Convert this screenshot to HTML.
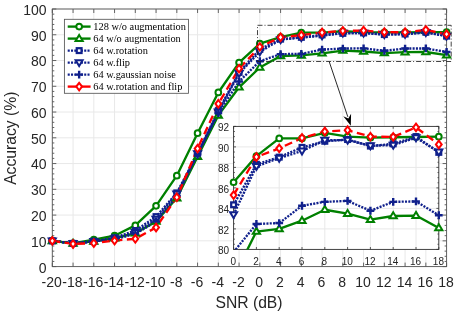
<!DOCTYPE html>
<html><head><meta charset="utf-8"><title>Accuracy vs SNR</title>
<style>html,body{margin:0;padding:0;background:#fff;overflow:hidden}svg{display:block}</style></head>
<body>
<svg width="457" height="314" viewBox="0 0 457 314" style="display:block">
<rect width="457" height="314" fill="#fff"/>
<defs>
<clipPath id="cm"><rect x="52.3" y="9.0" width="394.3" height="257.6"/></clipPath>
<clipPath id="ci"><rect x="233.6" y="126.4" width="205.20000000000002" height="123.0"/></clipPath>
</defs>
<path d="M52.30 9.0 V266.6 M73.05 9.0 V266.6 M93.81 9.0 V266.6 M114.56 9.0 V266.6 M135.31 9.0 V266.6 M156.06 9.0 V266.6 M176.82 9.0 V266.6 M197.57 9.0 V266.6 M218.32 9.0 V266.6 M239.07 9.0 V266.6 M259.83 9.0 V266.6 M280.58 9.0 V266.6 M301.33 9.0 V266.6 M322.08 9.0 V266.6 M342.84 9.0 V266.6 M363.59 9.0 V266.6 M384.34 9.0 V266.6 M405.09 9.0 V266.6 M425.85 9.0 V266.6 M446.60 9.0 V266.6 M52.3 266.60 H446.6 M52.3 240.84 H446.6 M52.3 215.08 H446.6 M52.3 189.32 H446.6 M52.3 163.56 H446.6 M52.3 137.80 H446.6 M52.3 112.04 H446.6 M52.3 86.28 H446.6 M52.3 60.52 H446.6 M52.3 34.76 H446.6 M52.3 9.00 H446.6" stroke="#e8e8e8" stroke-width="1" fill="none"/>
<path d="M52.30 266.6 v-4.0 M52.30 9.0 v4.0 M73.05 266.6 v-4.0 M73.05 9.0 v4.0 M93.81 266.6 v-4.0 M93.81 9.0 v4.0 M114.56 266.6 v-4.0 M114.56 9.0 v4.0 M135.31 266.6 v-4.0 M135.31 9.0 v4.0 M156.06 266.6 v-4.0 M156.06 9.0 v4.0 M176.82 266.6 v-4.0 M176.82 9.0 v4.0 M197.57 266.6 v-4.0 M197.57 9.0 v4.0 M218.32 266.6 v-4.0 M218.32 9.0 v4.0 M239.07 266.6 v-4.0 M239.07 9.0 v4.0 M259.83 266.6 v-4.0 M259.83 9.0 v4.0 M280.58 266.6 v-4.0 M280.58 9.0 v4.0 M301.33 266.6 v-4.0 M301.33 9.0 v4.0 M322.08 266.6 v-4.0 M322.08 9.0 v4.0 M342.84 266.6 v-4.0 M342.84 9.0 v4.0 M363.59 266.6 v-4.0 M363.59 9.0 v4.0 M384.34 266.6 v-4.0 M384.34 9.0 v4.0 M405.09 266.6 v-4.0 M405.09 9.0 v4.0 M425.85 266.6 v-4.0 M425.85 9.0 v4.0 M446.60 266.6 v-4.0 M446.60 9.0 v4.0 M52.3 266.60 h4.0 M446.6 266.60 h-4.0 M52.3 240.84 h4.0 M446.6 240.84 h-4.0 M52.3 215.08 h4.0 M446.6 215.08 h-4.0 M52.3 189.32 h4.0 M446.6 189.32 h-4.0 M52.3 163.56 h4.0 M446.6 163.56 h-4.0 M52.3 137.80 h4.0 M446.6 137.80 h-4.0 M52.3 112.04 h4.0 M446.6 112.04 h-4.0 M52.3 86.28 h4.0 M446.6 86.28 h-4.0 M52.3 60.52 h4.0 M446.6 60.52 h-4.0 M52.3 34.76 h4.0 M446.6 34.76 h-4.0 M52.3 9.00 h4.0 M446.6 9.00 h-4.0 M52.3 261.45 h2.0 M446.6 261.45 h-2.0 M52.3 256.30 h2.0 M446.6 256.30 h-2.0 M52.3 251.14 h2.0 M446.6 251.14 h-2.0 M52.3 245.99 h2.0 M446.6 245.99 h-2.0 M52.3 235.69 h2.0 M446.6 235.69 h-2.0 M52.3 230.54 h2.0 M446.6 230.54 h-2.0 M52.3 225.38 h2.0 M446.6 225.38 h-2.0 M52.3 220.23 h2.0 M446.6 220.23 h-2.0 M52.3 209.93 h2.0 M446.6 209.93 h-2.0 M52.3 204.78 h2.0 M446.6 204.78 h-2.0 M52.3 199.62 h2.0 M446.6 199.62 h-2.0 M52.3 194.47 h2.0 M446.6 194.47 h-2.0 M52.3 184.17 h2.0 M446.6 184.17 h-2.0 M52.3 179.02 h2.0 M446.6 179.02 h-2.0 M52.3 173.86 h2.0 M446.6 173.86 h-2.0 M52.3 168.71 h2.0 M446.6 168.71 h-2.0 M52.3 158.41 h2.0 M446.6 158.41 h-2.0 M52.3 153.26 h2.0 M446.6 153.26 h-2.0 M52.3 148.10 h2.0 M446.6 148.10 h-2.0 M52.3 142.95 h2.0 M446.6 142.95 h-2.0 M52.3 132.65 h2.0 M446.6 132.65 h-2.0 M52.3 127.50 h2.0 M446.6 127.50 h-2.0 M52.3 122.34 h2.0 M446.6 122.34 h-2.0 M52.3 117.19 h2.0 M446.6 117.19 h-2.0 M52.3 106.89 h2.0 M446.6 106.89 h-2.0 M52.3 101.74 h2.0 M446.6 101.74 h-2.0 M52.3 96.58 h2.0 M446.6 96.58 h-2.0 M52.3 91.43 h2.0 M446.6 91.43 h-2.0 M52.3 81.13 h2.0 M446.6 81.13 h-2.0 M52.3 75.98 h2.0 M446.6 75.98 h-2.0 M52.3 70.82 h2.0 M446.6 70.82 h-2.0 M52.3 65.67 h2.0 M446.6 65.67 h-2.0 M52.3 55.37 h2.0 M446.6 55.37 h-2.0 M52.3 50.22 h2.0 M446.6 50.22 h-2.0 M52.3 45.06 h2.0 M446.6 45.06 h-2.0 M52.3 39.91 h2.0 M446.6 39.91 h-2.0 M52.3 29.61 h2.0 M446.6 29.61 h-2.0 M52.3 24.46 h2.0 M446.6 24.46 h-2.0 M52.3 19.30 h2.0 M446.6 19.30 h-2.0 M52.3 14.15 h2.0 M446.6 14.15 h-2.0" stroke="#555" stroke-width="0.9" fill="none"/>
<rect x="52.3" y="9.0" width="394.3" height="257.6" fill="none" stroke="#555" stroke-width="0.9"/>
<g clip-path="url(#cm)">
<polyline points="52.30,240.84 73.05,243.42 93.81,239.55 114.56,235.69 135.31,225.38 156.06,205.81 176.82,175.67 197.57,133.16 218.32,92.46 239.07,62.58 259.83,43.65 280.58,37.08 301.33,32.62 322.08,32.62 342.84,31.26 363.59,32.18 384.34,32.44 405.09,32.34 425.85,32.26 446.60,32.18" fill="none" stroke="#008000" stroke-width="2.35" stroke-linejoin="round"/>
<polyline points="52.30,240.84 73.05,243.42 93.81,241.36 114.56,238.26 135.31,233.11 156.06,221.52 176.82,198.08 197.57,156.60 218.32,115.39 239.07,87.31 259.83,67.48 280.58,56.04 301.33,55.37 322.08,53.31 342.84,50.55 363.59,51.53 384.34,53.05 405.09,52.12 425.85,52.02 446.60,55.11" fill="none" stroke="#008000" stroke-width="2.35" stroke-linejoin="round"/>
<polyline points="52.30,240.84 73.05,243.42 93.81,241.36 114.56,237.75 135.31,230.54 156.06,216.63 176.82,192.93 197.57,153.26 218.32,110.75 239.07,72.37 259.83,49.31 280.58,39.14 301.33,37.34 322.08,34.89 342.84,33.34 363.59,32.91 384.34,34.55 405.09,33.99 425.85,32.18 446.60,36.13" fill="none" stroke="#10208c" stroke-width="2.35" stroke-dasharray="2.05 1.25" stroke-linejoin="round"/>
<polyline points="52.30,240.84 73.05,243.42 93.81,241.36 114.56,238.78 135.31,232.34 156.06,219.20 176.82,193.96 197.57,153.77 218.32,111.78 239.07,73.40 259.83,51.76 280.58,39.65 301.33,37.59 322.08,35.79 342.84,33.09 363.59,33.06 384.34,34.45 405.09,34.32 425.85,32.44 446.60,36.05" fill="none" stroke="#10208c" stroke-width="2.35" stroke-dasharray="2.05 1.25" stroke-linejoin="round"/>
<polyline points="52.30,240.84 73.05,243.42 93.81,241.36 114.56,239.29 135.31,233.88 156.06,221.52 176.82,196.28 197.57,154.29 218.32,113.07 239.07,81.51 259.83,61.19 280.58,54.13 301.33,53.90 322.08,49.55 342.84,48.57 363.59,48.34 384.34,50.81 405.09,48.57 425.85,48.46 446.60,51.94" fill="none" stroke="#10208c" stroke-width="2.35" stroke-dasharray="2.05 1.25" stroke-linejoin="round"/>
<polyline points="52.30,240.84 73.05,243.93 93.81,243.16 114.56,240.58 135.31,238.78 156.06,227.44 176.82,197.31 197.57,148.62 218.32,103.80 239.07,68.63 259.83,46.87 280.58,37.28 301.33,35.12 322.08,32.52 342.84,30.90 363.59,30.56 384.34,32.18 405.09,32.24 425.85,29.87 446.60,34.14" fill="none" stroke="#ff0000" stroke-width="2.35" stroke-dasharray="8 4.5" stroke-linejoin="round"/>
</g>
<circle cx="52.30" cy="240.84" r="2.85" fill="#fff" stroke="#008000" stroke-width="2.0"/>
<circle cx="73.05" cy="243.42" r="2.85" fill="#fff" stroke="#008000" stroke-width="2.0"/>
<circle cx="93.81" cy="239.55" r="2.85" fill="#fff" stroke="#008000" stroke-width="2.0"/>
<circle cx="114.56" cy="235.69" r="2.85" fill="#fff" stroke="#008000" stroke-width="2.0"/>
<circle cx="135.31" cy="225.38" r="2.85" fill="#fff" stroke="#008000" stroke-width="2.0"/>
<circle cx="156.06" cy="205.81" r="2.85" fill="#fff" stroke="#008000" stroke-width="2.0"/>
<circle cx="176.82" cy="175.67" r="2.85" fill="#fff" stroke="#008000" stroke-width="2.0"/>
<circle cx="197.57" cy="133.16" r="2.85" fill="#fff" stroke="#008000" stroke-width="2.0"/>
<circle cx="218.32" cy="92.46" r="2.85" fill="#fff" stroke="#008000" stroke-width="2.0"/>
<circle cx="239.07" cy="62.58" r="2.85" fill="#fff" stroke="#008000" stroke-width="2.0"/>
<circle cx="259.83" cy="43.65" r="2.85" fill="#fff" stroke="#008000" stroke-width="2.0"/>
<circle cx="280.58" cy="37.08" r="2.85" fill="#fff" stroke="#008000" stroke-width="2.0"/>
<circle cx="301.33" cy="32.62" r="2.85" fill="#fff" stroke="#008000" stroke-width="2.0"/>
<circle cx="322.08" cy="32.62" r="2.85" fill="#fff" stroke="#008000" stroke-width="2.0"/>
<circle cx="342.84" cy="31.26" r="2.85" fill="#fff" stroke="#008000" stroke-width="2.0"/>
<circle cx="363.59" cy="32.18" r="2.85" fill="#fff" stroke="#008000" stroke-width="2.0"/>
<circle cx="384.34" cy="32.44" r="2.85" fill="#fff" stroke="#008000" stroke-width="2.0"/>
<circle cx="405.09" cy="32.34" r="2.85" fill="#fff" stroke="#008000" stroke-width="2.0"/>
<circle cx="425.85" cy="32.26" r="2.85" fill="#fff" stroke="#008000" stroke-width="2.0"/>
<circle cx="446.60" cy="32.18" r="2.85" fill="#fff" stroke="#008000" stroke-width="2.0"/>
<path d="M52.30 237.14 L55.90 243.14 L48.70 243.14 Z" fill="#fff" stroke="#008000" stroke-width="2.0" stroke-linejoin="miter"/>
<path d="M73.05 239.72 L76.65 245.72 L69.45 245.72 Z" fill="#fff" stroke="#008000" stroke-width="2.0" stroke-linejoin="miter"/>
<path d="M93.81 237.66 L97.41 243.66 L90.21 243.66 Z" fill="#fff" stroke="#008000" stroke-width="2.0" stroke-linejoin="miter"/>
<path d="M114.56 234.56 L118.16 240.56 L110.96 240.56 Z" fill="#fff" stroke="#008000" stroke-width="2.0" stroke-linejoin="miter"/>
<path d="M135.31 229.41 L138.91 235.41 L131.71 235.41 Z" fill="#fff" stroke="#008000" stroke-width="2.0" stroke-linejoin="miter"/>
<path d="M156.06 217.82 L159.66 223.82 L152.46 223.82 Z" fill="#fff" stroke="#008000" stroke-width="2.0" stroke-linejoin="miter"/>
<path d="M176.82 194.38 L180.42 200.38 L173.22 200.38 Z" fill="#fff" stroke="#008000" stroke-width="2.0" stroke-linejoin="miter"/>
<path d="M197.57 152.90 L201.17 158.90 L193.97 158.90 Z" fill="#fff" stroke="#008000" stroke-width="2.0" stroke-linejoin="miter"/>
<path d="M218.32 111.69 L221.92 117.69 L214.72 117.69 Z" fill="#fff" stroke="#008000" stroke-width="2.0" stroke-linejoin="miter"/>
<path d="M239.07 83.61 L242.67 89.61 L235.47 89.61 Z" fill="#fff" stroke="#008000" stroke-width="2.0" stroke-linejoin="miter"/>
<path d="M259.83 63.78 L263.43 69.78 L256.23 69.78 Z" fill="#fff" stroke="#008000" stroke-width="2.0" stroke-linejoin="miter"/>
<path d="M280.58 52.34 L284.18 58.34 L276.98 58.34 Z" fill="#fff" stroke="#008000" stroke-width="2.0" stroke-linejoin="miter"/>
<path d="M301.33 51.67 L304.93 57.67 L297.73 57.67 Z" fill="#fff" stroke="#008000" stroke-width="2.0" stroke-linejoin="miter"/>
<path d="M322.08 49.61 L325.68 55.61 L318.48 55.61 Z" fill="#fff" stroke="#008000" stroke-width="2.0" stroke-linejoin="miter"/>
<path d="M342.84 46.85 L346.44 52.85 L339.24 52.85 Z" fill="#fff" stroke="#008000" stroke-width="2.0" stroke-linejoin="miter"/>
<path d="M363.59 47.83 L367.19 53.83 L359.99 53.83 Z" fill="#fff" stroke="#008000" stroke-width="2.0" stroke-linejoin="miter"/>
<path d="M384.34 49.35 L387.94 55.35 L380.74 55.35 Z" fill="#fff" stroke="#008000" stroke-width="2.0" stroke-linejoin="miter"/>
<path d="M405.09 48.42 L408.69 54.42 L401.49 54.42 Z" fill="#fff" stroke="#008000" stroke-width="2.0" stroke-linejoin="miter"/>
<path d="M425.85 48.32 L429.45 54.32 L422.25 54.32 Z" fill="#fff" stroke="#008000" stroke-width="2.0" stroke-linejoin="miter"/>
<path d="M446.60 51.41 L450.20 57.41 L443.00 57.41 Z" fill="#fff" stroke="#008000" stroke-width="2.0" stroke-linejoin="miter"/>
<rect x="49.90" y="238.44" width="4.8" height="4.8" fill="#fff" stroke="#10208c" stroke-width="2.25"/>
<rect x="70.65" y="241.02" width="4.8" height="4.8" fill="#fff" stroke="#10208c" stroke-width="2.25"/>
<rect x="91.41" y="238.96" width="4.8" height="4.8" fill="#fff" stroke="#10208c" stroke-width="2.25"/>
<rect x="112.16" y="235.35" width="4.8" height="4.8" fill="#fff" stroke="#10208c" stroke-width="2.25"/>
<rect x="132.91" y="228.14" width="4.8" height="4.8" fill="#fff" stroke="#10208c" stroke-width="2.25"/>
<rect x="153.66" y="214.23" width="4.8" height="4.8" fill="#fff" stroke="#10208c" stroke-width="2.25"/>
<rect x="174.42" y="190.53" width="4.8" height="4.8" fill="#fff" stroke="#10208c" stroke-width="2.25"/>
<rect x="195.17" y="150.86" width="4.8" height="4.8" fill="#fff" stroke="#10208c" stroke-width="2.25"/>
<rect x="215.92" y="108.35" width="4.8" height="4.8" fill="#fff" stroke="#10208c" stroke-width="2.25"/>
<rect x="236.67" y="69.97" width="4.8" height="4.8" fill="#fff" stroke="#10208c" stroke-width="2.25"/>
<rect x="257.43" y="46.91" width="4.8" height="4.8" fill="#fff" stroke="#10208c" stroke-width="2.25"/>
<rect x="278.18" y="36.74" width="4.8" height="4.8" fill="#fff" stroke="#10208c" stroke-width="2.25"/>
<rect x="298.93" y="34.94" width="4.8" height="4.8" fill="#fff" stroke="#10208c" stroke-width="2.25"/>
<rect x="319.68" y="32.49" width="4.8" height="4.8" fill="#fff" stroke="#10208c" stroke-width="2.25"/>
<rect x="340.44" y="30.94" width="4.8" height="4.8" fill="#fff" stroke="#10208c" stroke-width="2.25"/>
<rect x="361.19" y="30.51" width="4.8" height="4.8" fill="#fff" stroke="#10208c" stroke-width="2.25"/>
<rect x="381.94" y="32.15" width="4.8" height="4.8" fill="#fff" stroke="#10208c" stroke-width="2.25"/>
<rect x="402.69" y="31.59" width="4.8" height="4.8" fill="#fff" stroke="#10208c" stroke-width="2.25"/>
<rect x="423.45" y="29.78" width="4.8" height="4.8" fill="#fff" stroke="#10208c" stroke-width="2.25"/>
<rect x="444.20" y="33.73" width="4.8" height="4.8" fill="#fff" stroke="#10208c" stroke-width="2.25"/>
<path d="M52.30 244.34 L55.80 238.44 L48.80 238.44 Z" fill="#fff" stroke="#10208c" stroke-width="2.0" stroke-linejoin="miter"/>
<path d="M73.05 246.92 L76.55 241.02 L69.55 241.02 Z" fill="#fff" stroke="#10208c" stroke-width="2.0" stroke-linejoin="miter"/>
<path d="M93.81 244.86 L97.31 238.96 L90.31 238.96 Z" fill="#fff" stroke="#10208c" stroke-width="2.0" stroke-linejoin="miter"/>
<path d="M114.56 242.28 L118.06 236.38 L111.06 236.38 Z" fill="#fff" stroke="#10208c" stroke-width="2.0" stroke-linejoin="miter"/>
<path d="M135.31 235.84 L138.81 229.94 L131.81 229.94 Z" fill="#fff" stroke="#10208c" stroke-width="2.0" stroke-linejoin="miter"/>
<path d="M156.06 222.70 L159.56 216.80 L152.56 216.80 Z" fill="#fff" stroke="#10208c" stroke-width="2.0" stroke-linejoin="miter"/>
<path d="M176.82 197.46 L180.32 191.56 L173.32 191.56 Z" fill="#fff" stroke="#10208c" stroke-width="2.0" stroke-linejoin="miter"/>
<path d="M197.57 157.27 L201.07 151.37 L194.07 151.37 Z" fill="#fff" stroke="#10208c" stroke-width="2.0" stroke-linejoin="miter"/>
<path d="M218.32 115.28 L221.82 109.38 L214.82 109.38 Z" fill="#fff" stroke="#10208c" stroke-width="2.0" stroke-linejoin="miter"/>
<path d="M239.07 76.90 L242.57 71.00 L235.57 71.00 Z" fill="#fff" stroke="#10208c" stroke-width="2.0" stroke-linejoin="miter"/>
<path d="M259.83 55.26 L263.33 49.36 L256.33 49.36 Z" fill="#fff" stroke="#10208c" stroke-width="2.0" stroke-linejoin="miter"/>
<path d="M280.58 43.15 L284.08 37.25 L277.08 37.25 Z" fill="#fff" stroke="#10208c" stroke-width="2.0" stroke-linejoin="miter"/>
<path d="M301.33 41.09 L304.83 35.19 L297.83 35.19 Z" fill="#fff" stroke="#10208c" stroke-width="2.0" stroke-linejoin="miter"/>
<path d="M322.08 39.29 L325.58 33.39 L318.58 33.39 Z" fill="#fff" stroke="#10208c" stroke-width="2.0" stroke-linejoin="miter"/>
<path d="M342.84 36.59 L346.34 30.69 L339.34 30.69 Z" fill="#fff" stroke="#10208c" stroke-width="2.0" stroke-linejoin="miter"/>
<path d="M363.59 36.56 L367.09 30.66 L360.09 30.66 Z" fill="#fff" stroke="#10208c" stroke-width="2.0" stroke-linejoin="miter"/>
<path d="M384.34 37.95 L387.84 32.05 L380.84 32.05 Z" fill="#fff" stroke="#10208c" stroke-width="2.0" stroke-linejoin="miter"/>
<path d="M405.09 37.82 L408.59 31.92 L401.59 31.92 Z" fill="#fff" stroke="#10208c" stroke-width="2.0" stroke-linejoin="miter"/>
<path d="M425.85 35.94 L429.35 30.04 L422.35 30.04 Z" fill="#fff" stroke="#10208c" stroke-width="2.0" stroke-linejoin="miter"/>
<path d="M446.60 39.55 L450.10 33.65 L443.10 33.65 Z" fill="#fff" stroke="#10208c" stroke-width="2.0" stroke-linejoin="miter"/>
<path d="M48.40 240.84 H56.20 M52.30 236.94 V244.74" fill="none" stroke="#10208c" stroke-width="2.4"/>
<path d="M69.15 243.42 H76.95 M73.05 239.52 V247.32" fill="none" stroke="#10208c" stroke-width="2.4"/>
<path d="M89.91 241.36 H97.71 M93.81 237.46 V245.26" fill="none" stroke="#10208c" stroke-width="2.4"/>
<path d="M110.66 239.29 H118.46 M114.56 235.39 V243.19" fill="none" stroke="#10208c" stroke-width="2.4"/>
<path d="M131.41 233.88 H139.21 M135.31 229.98 V237.78" fill="none" stroke="#10208c" stroke-width="2.4"/>
<path d="M152.16 221.52 H159.96 M156.06 217.62 V225.42" fill="none" stroke="#10208c" stroke-width="2.4"/>
<path d="M172.92 196.28 H180.72 M176.82 192.38 V200.18" fill="none" stroke="#10208c" stroke-width="2.4"/>
<path d="M193.67 154.29 H201.47 M197.57 150.39 V158.19" fill="none" stroke="#10208c" stroke-width="2.4"/>
<path d="M214.42 113.07 H222.22 M218.32 109.17 V116.97" fill="none" stroke="#10208c" stroke-width="2.4"/>
<path d="M235.17 81.51 H242.97 M239.07 77.61 V85.41" fill="none" stroke="#10208c" stroke-width="2.4"/>
<path d="M255.93 61.19 H263.73 M259.83 57.29 V65.09" fill="none" stroke="#10208c" stroke-width="2.4"/>
<path d="M276.68 54.13 H284.48 M280.58 50.23 V58.03" fill="none" stroke="#10208c" stroke-width="2.4"/>
<path d="M297.43 53.90 H305.23 M301.33 50.00 V57.80" fill="none" stroke="#10208c" stroke-width="2.4"/>
<path d="M318.18 49.55 H325.98 M322.08 45.65 V53.45" fill="none" stroke="#10208c" stroke-width="2.4"/>
<path d="M338.94 48.57 H346.74 M342.84 44.67 V52.47" fill="none" stroke="#10208c" stroke-width="2.4"/>
<path d="M359.69 48.34 H367.49 M363.59 44.44 V52.24" fill="none" stroke="#10208c" stroke-width="2.4"/>
<path d="M380.44 50.81 H388.24 M384.34 46.91 V54.71" fill="none" stroke="#10208c" stroke-width="2.4"/>
<path d="M401.19 48.57 H408.99 M405.09 44.67 V52.47" fill="none" stroke="#10208c" stroke-width="2.4"/>
<path d="M421.95 48.46 H429.75 M425.85 44.56 V52.36" fill="none" stroke="#10208c" stroke-width="2.4"/>
<path d="M442.70 51.94 H450.50 M446.60 48.04 V55.84" fill="none" stroke="#10208c" stroke-width="2.4"/>
<path d="M52.30 237.04 L55.20 240.84 L52.30 244.64 L49.40 240.84 Z" fill="#fff" stroke="#ff0000" stroke-width="2.0" stroke-linejoin="miter"/>
<path d="M73.05 240.13 L75.95 243.93 L73.05 247.73 L70.15 243.93 Z" fill="#fff" stroke="#ff0000" stroke-width="2.0" stroke-linejoin="miter"/>
<path d="M93.81 239.36 L96.71 243.16 L93.81 246.96 L90.91 243.16 Z" fill="#fff" stroke="#ff0000" stroke-width="2.0" stroke-linejoin="miter"/>
<path d="M114.56 236.78 L117.46 240.58 L114.56 244.38 L111.66 240.58 Z" fill="#fff" stroke="#ff0000" stroke-width="2.0" stroke-linejoin="miter"/>
<path d="M135.31 234.98 L138.21 238.78 L135.31 242.58 L132.41 238.78 Z" fill="#fff" stroke="#ff0000" stroke-width="2.0" stroke-linejoin="miter"/>
<path d="M156.06 223.64 L158.96 227.44 L156.06 231.24 L153.16 227.44 Z" fill="#fff" stroke="#ff0000" stroke-width="2.0" stroke-linejoin="miter"/>
<path d="M176.82 193.51 L179.72 197.31 L176.82 201.11 L173.92 197.31 Z" fill="#fff" stroke="#ff0000" stroke-width="2.0" stroke-linejoin="miter"/>
<path d="M197.57 144.82 L200.47 148.62 L197.57 152.42 L194.67 148.62 Z" fill="#fff" stroke="#ff0000" stroke-width="2.0" stroke-linejoin="miter"/>
<path d="M218.32 100.00 L221.22 103.80 L218.32 107.60 L215.42 103.80 Z" fill="#fff" stroke="#ff0000" stroke-width="2.0" stroke-linejoin="miter"/>
<path d="M239.07 64.83 L241.97 68.63 L239.07 72.43 L236.17 68.63 Z" fill="#fff" stroke="#ff0000" stroke-width="2.0" stroke-linejoin="miter"/>
<path d="M259.83 43.07 L262.73 46.87 L259.83 50.67 L256.93 46.87 Z" fill="#fff" stroke="#ff0000" stroke-width="2.0" stroke-linejoin="miter"/>
<path d="M280.58 33.48 L283.48 37.28 L280.58 41.08 L277.68 37.28 Z" fill="#fff" stroke="#ff0000" stroke-width="2.0" stroke-linejoin="miter"/>
<path d="M301.33 31.32 L304.23 35.12 L301.33 38.92 L298.43 35.12 Z" fill="#fff" stroke="#ff0000" stroke-width="2.0" stroke-linejoin="miter"/>
<path d="M322.08 28.72 L324.98 32.52 L322.08 36.32 L319.18 32.52 Z" fill="#fff" stroke="#ff0000" stroke-width="2.0" stroke-linejoin="miter"/>
<path d="M342.84 27.10 L345.74 30.90 L342.84 34.70 L339.94 30.90 Z" fill="#fff" stroke="#ff0000" stroke-width="2.0" stroke-linejoin="miter"/>
<path d="M363.59 26.76 L366.49 30.56 L363.59 34.36 L360.69 30.56 Z" fill="#fff" stroke="#ff0000" stroke-width="2.0" stroke-linejoin="miter"/>
<path d="M384.34 28.38 L387.24 32.18 L384.34 35.98 L381.44 32.18 Z" fill="#fff" stroke="#ff0000" stroke-width="2.0" stroke-linejoin="miter"/>
<path d="M405.09 28.44 L407.99 32.24 L405.09 36.04 L402.19 32.24 Z" fill="#fff" stroke="#ff0000" stroke-width="2.0" stroke-linejoin="miter"/>
<path d="M425.85 26.07 L428.75 29.87 L425.85 33.67 L422.95 29.87 Z" fill="#fff" stroke="#ff0000" stroke-width="2.0" stroke-linejoin="miter"/>
<path d="M446.60 30.34 L449.50 34.14 L446.60 37.94 L443.70 34.14 Z" fill="#fff" stroke="#ff0000" stroke-width="2.0" stroke-linejoin="miter"/>
<g font-family="Liberation Sans, Arial, Helvetica, sans-serif" font-size="14.0" fill="#262626">
<text x="51.70" y="286.7" text-anchor="middle">-20</text>
<text x="72.45" y="286.7" text-anchor="middle">-18</text>
<text x="93.21" y="286.7" text-anchor="middle">-16</text>
<text x="113.96" y="286.7" text-anchor="middle">-14</text>
<text x="134.71" y="286.7" text-anchor="middle">-12</text>
<text x="155.46" y="286.7" text-anchor="middle">-10</text>
<text x="176.22" y="286.7" text-anchor="middle">-8</text>
<text x="196.97" y="286.7" text-anchor="middle">-6</text>
<text x="217.72" y="286.7" text-anchor="middle">-4</text>
<text x="238.47" y="286.7" text-anchor="middle">-2</text>
<text x="259.23" y="286.7" text-anchor="middle">0</text>
<text x="279.98" y="286.7" text-anchor="middle">2</text>
<text x="300.73" y="286.7" text-anchor="middle">4</text>
<text x="321.48" y="286.7" text-anchor="middle">6</text>
<text x="342.24" y="286.7" text-anchor="middle">8</text>
<text x="362.99" y="286.7" text-anchor="middle">10</text>
<text x="383.74" y="286.7" text-anchor="middle">12</text>
<text x="404.49" y="286.7" text-anchor="middle">14</text>
<text x="425.25" y="286.7" text-anchor="middle">16</text>
<text x="446.00" y="286.7" text-anchor="middle">18</text>
<text x="46.5" y="272.50" text-anchor="end">0</text>
<text x="46.5" y="246.74" text-anchor="end">10</text>
<text x="46.5" y="220.98" text-anchor="end">20</text>
<text x="46.5" y="195.22" text-anchor="end">30</text>
<text x="46.5" y="169.46" text-anchor="end">40</text>
<text x="46.5" y="143.70" text-anchor="end">50</text>
<text x="46.5" y="117.94" text-anchor="end">60</text>
<text x="46.5" y="92.18" text-anchor="end">70</text>
<text x="46.5" y="66.42" text-anchor="end">80</text>
<text x="46.5" y="40.66" text-anchor="end">90</text>
<text x="46.5" y="14.90" text-anchor="end">100</text>
</g>
<g font-family="Liberation Sans, Arial, Helvetica, sans-serif" font-size="15.7" fill="#262626">
<text x="249" y="308" text-anchor="middle">SNR (dB)</text>
<text transform="translate(16.4 138.2) rotate(-90)" text-anchor="middle">Accuracy (%)</text>
</g>
<rect x="64.4" y="19.3" width="124.1" height="74.0" fill="#fff" stroke="#555" stroke-width="0.85"/>
<g font-family="Liberation Serif, Times New Roman, serif" font-size="10.36" fill="#000">
<path d="M67.7 26.60 H90.6" stroke="#008000" stroke-width="2.35" fill="none"/>
<circle cx="79.15" cy="26.60" r="2.85" fill="#fff" stroke="#008000" stroke-width="2.0"/>
<text x="93.3" y="30.00">128 w/o augmentation</text>
<path d="M67.7 38.60 H90.6" stroke="#008000" stroke-width="2.35" fill="none"/>
<path d="M79.15 34.90 L82.75 40.90 L75.55 40.90 Z" fill="#fff" stroke="#008000" stroke-width="2.0" stroke-linejoin="miter"/>
<text x="93.3" y="42.00">64 w/o augmentation</text>
<path d="M67.7 50.60 H90.6" stroke="#10208c" stroke-width="2.35" stroke-dasharray="2.05 1.25" fill="none"/>
<rect x="76.75" y="48.20" width="4.8" height="4.8" fill="#fff" stroke="#10208c" stroke-width="2.25"/>
<text x="93.3" y="54.00">64 w.rotation</text>
<path d="M67.7 62.60 H90.6" stroke="#10208c" stroke-width="2.35" stroke-dasharray="2.05 1.25" fill="none"/>
<path d="M79.15 66.10 L82.65 60.20 L75.65 60.20 Z" fill="#fff" stroke="#10208c" stroke-width="2.0" stroke-linejoin="miter"/>
<text x="93.3" y="66.00">64 w.flip</text>
<path d="M67.7 74.60 H90.6" stroke="#10208c" stroke-width="2.35" stroke-dasharray="2.05 1.25" fill="none"/>
<path d="M75.25 74.60 H83.05 M79.15 70.70 V78.50" fill="none" stroke="#10208c" stroke-width="2.4"/>
<text x="93.3" y="78.00">64 w.gaussian noise</text>
<path d="M67.7 86.60 H90.6" stroke="#ff0000" stroke-width="2.35" fill="none"/>
<path d="M79.15 82.80 L82.05 86.60 L79.15 90.40 L76.25 86.60 Z" fill="#fff" stroke="#ff0000" stroke-width="2.0" stroke-linejoin="miter"/>
<text x="93.3" y="90.00">64 w.rotation and flip</text>
</g>
<rect x="233.6" y="126.4" width="205.20000000000002" height="123.0" fill="#fff"/>
<path d="M233.60 126.4 V249.4 M256.40 126.4 V249.4 M279.20 126.4 V249.4 M302.00 126.4 V249.4 M324.80 126.4 V249.4 M347.60 126.4 V249.4 M370.40 126.4 V249.4 M393.20 126.4 V249.4 M416.00 126.4 V249.4 M438.80 126.4 V249.4 M233.6 249.40 H438.8 M233.6 228.90 H438.8 M233.6 208.40 H438.8 M233.6 187.90 H438.8 M233.6 167.40 H438.8 M233.6 146.90 H438.8 M233.6 126.40 H438.8" stroke="#e8e8e8" stroke-width="1" fill="none"/>
<path d="M233.60 249.4 v-2.4 M233.60 126.4 v2.4 M256.40 249.4 v-2.4 M256.40 126.4 v2.4 M279.20 249.4 v-2.4 M279.20 126.4 v2.4 M302.00 249.4 v-2.4 M302.00 126.4 v2.4 M324.80 249.4 v-2.4 M324.80 126.4 v2.4 M347.60 249.4 v-2.4 M347.60 126.4 v2.4 M370.40 249.4 v-2.4 M370.40 126.4 v2.4 M393.20 249.4 v-2.4 M393.20 126.4 v2.4 M416.00 249.4 v-2.4 M416.00 126.4 v2.4 M438.80 249.4 v-2.4 M438.80 126.4 v2.4 M233.6 249.40 h2.4 M438.8 249.40 h-2.4 M233.6 228.90 h2.4 M438.8 228.90 h-2.4 M233.6 208.40 h2.4 M438.8 208.40 h-2.4 M233.6 187.90 h2.4 M438.8 187.90 h-2.4 M233.6 167.40 h2.4 M438.8 167.40 h-2.4 M233.6 146.90 h2.4 M438.8 146.90 h-2.4 M233.6 126.40 h2.4 M438.8 126.40 h-2.4 M233.6 244.28 h1.3 M438.8 244.28 h-1.3 M233.6 239.15 h1.3 M438.8 239.15 h-1.3 M233.6 234.03 h1.3 M438.8 234.03 h-1.3 M233.6 223.78 h1.3 M438.8 223.78 h-1.3 M233.6 218.65 h1.3 M438.8 218.65 h-1.3 M233.6 213.53 h1.3 M438.8 213.53 h-1.3 M233.6 203.28 h1.3 M438.8 203.28 h-1.3 M233.6 198.15 h1.3 M438.8 198.15 h-1.3 M233.6 193.03 h1.3 M438.8 193.03 h-1.3 M233.6 182.78 h1.3 M438.8 182.78 h-1.3 M233.6 177.65 h1.3 M438.8 177.65 h-1.3 M233.6 172.53 h1.3 M438.8 172.53 h-1.3 M233.6 162.28 h1.3 M438.8 162.28 h-1.3 M233.6 157.15 h1.3 M438.8 157.15 h-1.3 M233.6 152.03 h1.3 M438.8 152.03 h-1.3 M233.6 141.78 h1.3 M438.8 141.78 h-1.3 M233.6 136.65 h1.3 M438.8 136.65 h-1.3 M233.6 131.53 h1.3 M438.8 131.53 h-1.3" stroke="#333" stroke-width="0.8" fill="none"/>
<rect x="233.6" y="126.4" width="205.20000000000002" height="123.0" fill="none" stroke="#333" stroke-width="0.9"/>
<g clip-path="url(#ci)">
<polyline points="233.60,182.26 256.40,156.13 279.20,138.39 302.00,138.39 324.80,132.96 347.60,136.65 370.40,137.67 393.20,137.27 416.00,136.96 438.80,136.65" fill="none" stroke="#008000" stroke-width="2.35" stroke-linejoin="round"/>
<polyline points="233.60,277.08 256.40,231.57 279.20,228.90 302.00,220.70 324.80,209.73 347.60,213.63 370.40,219.67 393.20,215.98 416.00,215.58 438.80,227.88" fill="none" stroke="#008000" stroke-width="2.35" stroke-linejoin="round"/>
<polyline points="233.60,204.81 256.40,164.33 279.20,157.15 302.00,147.41 324.80,141.26 347.60,139.52 370.40,146.08 393.20,143.83 416.00,136.65 438.80,152.33" fill="none" stroke="#10208c" stroke-width="2.35" stroke-dasharray="2.05 1.25" stroke-linejoin="round"/>
<polyline points="233.60,214.55 256.40,166.38 279.20,158.17 302.00,151.00 324.80,140.24 347.60,140.14 370.40,145.67 393.20,145.16 416.00,137.67 438.80,152.03" fill="none" stroke="#10208c" stroke-width="2.35" stroke-dasharray="2.05 1.25" stroke-linejoin="round"/>
<polyline points="233.60,252.07 256.40,223.98 279.20,223.06 302.00,205.73 324.80,201.84 347.60,200.92 370.40,210.76 393.20,201.84 416.00,201.43 438.80,215.27" fill="none" stroke="#10208c" stroke-width="2.35" stroke-dasharray="2.05 1.25" stroke-linejoin="round"/>
<polyline points="233.60,195.08 256.40,156.95 279.20,148.34 302.00,137.98 324.80,131.53 347.60,130.19 370.40,136.65 393.20,136.85 416.00,127.42 438.80,144.44" fill="none" stroke="#ff0000" stroke-width="2.35" stroke-dasharray="8 4.5" stroke-linejoin="round"/>
</g>
<circle cx="233.60" cy="182.26" r="2.85" fill="#fff" stroke="#008000" stroke-width="2.0"/>
<circle cx="256.40" cy="156.13" r="2.85" fill="#fff" stroke="#008000" stroke-width="2.0"/>
<circle cx="279.20" cy="138.39" r="2.85" fill="#fff" stroke="#008000" stroke-width="2.0"/>
<circle cx="302.00" cy="138.39" r="2.85" fill="#fff" stroke="#008000" stroke-width="2.0"/>
<circle cx="324.80" cy="132.96" r="2.85" fill="#fff" stroke="#008000" stroke-width="2.0"/>
<circle cx="347.60" cy="136.65" r="2.85" fill="#fff" stroke="#008000" stroke-width="2.0"/>
<circle cx="370.40" cy="137.67" r="2.85" fill="#fff" stroke="#008000" stroke-width="2.0"/>
<circle cx="393.20" cy="137.27" r="2.85" fill="#fff" stroke="#008000" stroke-width="2.0"/>
<circle cx="416.00" cy="136.96" r="2.85" fill="#fff" stroke="#008000" stroke-width="2.0"/>
<circle cx="438.80" cy="136.65" r="2.85" fill="#fff" stroke="#008000" stroke-width="2.0"/>
<path d="M256.40 227.87 L260.00 233.87 L252.80 233.87 Z" fill="#fff" stroke="#008000" stroke-width="2.0" stroke-linejoin="miter"/>
<path d="M279.20 225.20 L282.80 231.20 L275.60 231.20 Z" fill="#fff" stroke="#008000" stroke-width="2.0" stroke-linejoin="miter"/>
<path d="M302.00 217.00 L305.60 223.00 L298.40 223.00 Z" fill="#fff" stroke="#008000" stroke-width="2.0" stroke-linejoin="miter"/>
<path d="M324.80 206.03 L328.40 212.03 L321.20 212.03 Z" fill="#fff" stroke="#008000" stroke-width="2.0" stroke-linejoin="miter"/>
<path d="M347.60 209.93 L351.20 215.93 L344.00 215.93 Z" fill="#fff" stroke="#008000" stroke-width="2.0" stroke-linejoin="miter"/>
<path d="M370.40 215.97 L374.00 221.97 L366.80 221.97 Z" fill="#fff" stroke="#008000" stroke-width="2.0" stroke-linejoin="miter"/>
<path d="M393.20 212.28 L396.80 218.28 L389.60 218.28 Z" fill="#fff" stroke="#008000" stroke-width="2.0" stroke-linejoin="miter"/>
<path d="M416.00 211.88 L419.60 217.88 L412.40 217.88 Z" fill="#fff" stroke="#008000" stroke-width="2.0" stroke-linejoin="miter"/>
<path d="M438.80 224.18 L442.40 230.18 L435.20 230.18 Z" fill="#fff" stroke="#008000" stroke-width="2.0" stroke-linejoin="miter"/>
<rect x="231.20" y="202.41" width="4.8" height="4.8" fill="#fff" stroke="#10208c" stroke-width="2.25"/>
<rect x="254.00" y="161.93" width="4.8" height="4.8" fill="#fff" stroke="#10208c" stroke-width="2.25"/>
<rect x="276.80" y="154.75" width="4.8" height="4.8" fill="#fff" stroke="#10208c" stroke-width="2.25"/>
<rect x="299.60" y="145.01" width="4.8" height="4.8" fill="#fff" stroke="#10208c" stroke-width="2.25"/>
<rect x="322.40" y="138.86" width="4.8" height="4.8" fill="#fff" stroke="#10208c" stroke-width="2.25"/>
<rect x="345.20" y="137.12" width="4.8" height="4.8" fill="#fff" stroke="#10208c" stroke-width="2.25"/>
<rect x="368.00" y="143.68" width="4.8" height="4.8" fill="#fff" stroke="#10208c" stroke-width="2.25"/>
<rect x="390.80" y="141.43" width="4.8" height="4.8" fill="#fff" stroke="#10208c" stroke-width="2.25"/>
<rect x="413.60" y="134.25" width="4.8" height="4.8" fill="#fff" stroke="#10208c" stroke-width="2.25"/>
<rect x="436.40" y="149.93" width="4.8" height="4.8" fill="#fff" stroke="#10208c" stroke-width="2.25"/>
<path d="M233.60 218.05 L237.10 212.15 L230.10 212.15 Z" fill="#fff" stroke="#10208c" stroke-width="2.0" stroke-linejoin="miter"/>
<path d="M256.40 169.88 L259.90 163.98 L252.90 163.98 Z" fill="#fff" stroke="#10208c" stroke-width="2.0" stroke-linejoin="miter"/>
<path d="M279.20 161.67 L282.70 155.77 L275.70 155.77 Z" fill="#fff" stroke="#10208c" stroke-width="2.0" stroke-linejoin="miter"/>
<path d="M302.00 154.50 L305.50 148.60 L298.50 148.60 Z" fill="#fff" stroke="#10208c" stroke-width="2.0" stroke-linejoin="miter"/>
<path d="M324.80 143.74 L328.30 137.84 L321.30 137.84 Z" fill="#fff" stroke="#10208c" stroke-width="2.0" stroke-linejoin="miter"/>
<path d="M347.60 143.64 L351.10 137.74 L344.10 137.74 Z" fill="#fff" stroke="#10208c" stroke-width="2.0" stroke-linejoin="miter"/>
<path d="M370.40 149.17 L373.90 143.27 L366.90 143.27 Z" fill="#fff" stroke="#10208c" stroke-width="2.0" stroke-linejoin="miter"/>
<path d="M393.20 148.66 L396.70 142.76 L389.70 142.76 Z" fill="#fff" stroke="#10208c" stroke-width="2.0" stroke-linejoin="miter"/>
<path d="M416.00 141.17 L419.50 135.27 L412.50 135.27 Z" fill="#fff" stroke="#10208c" stroke-width="2.0" stroke-linejoin="miter"/>
<path d="M438.80 155.53 L442.30 149.62 L435.30 149.62 Z" fill="#fff" stroke="#10208c" stroke-width="2.0" stroke-linejoin="miter"/>
<path d="M252.50 223.98 H260.30 M256.40 220.08 V227.88" fill="none" stroke="#10208c" stroke-width="2.4"/>
<path d="M275.30 223.06 H283.10 M279.20 219.16 V226.96" fill="none" stroke="#10208c" stroke-width="2.4"/>
<path d="M298.10 205.73 H305.90 M302.00 201.83 V209.63" fill="none" stroke="#10208c" stroke-width="2.4"/>
<path d="M320.90 201.84 H328.70 M324.80 197.94 V205.74" fill="none" stroke="#10208c" stroke-width="2.4"/>
<path d="M343.70 200.92 H351.50 M347.60 197.02 V204.82" fill="none" stroke="#10208c" stroke-width="2.4"/>
<path d="M366.50 210.76 H374.30 M370.40 206.86 V214.66" fill="none" stroke="#10208c" stroke-width="2.4"/>
<path d="M389.30 201.84 H397.10 M393.20 197.94 V205.74" fill="none" stroke="#10208c" stroke-width="2.4"/>
<path d="M412.10 201.43 H419.90 M416.00 197.53 V205.33" fill="none" stroke="#10208c" stroke-width="2.4"/>
<path d="M434.90 215.27 H442.70 M438.80 211.37 V219.17" fill="none" stroke="#10208c" stroke-width="2.4"/>
<path d="M233.60 191.28 L236.50 195.08 L233.60 198.88 L230.70 195.08 Z" fill="#fff" stroke="#ff0000" stroke-width="2.0" stroke-linejoin="miter"/>
<path d="M256.40 153.15 L259.30 156.95 L256.40 160.75 L253.50 156.95 Z" fill="#fff" stroke="#ff0000" stroke-width="2.0" stroke-linejoin="miter"/>
<path d="M279.20 144.53 L282.10 148.34 L279.20 152.14 L276.30 148.34 Z" fill="#fff" stroke="#ff0000" stroke-width="2.0" stroke-linejoin="miter"/>
<path d="M302.00 134.18 L304.90 137.98 L302.00 141.78 L299.10 137.98 Z" fill="#fff" stroke="#ff0000" stroke-width="2.0" stroke-linejoin="miter"/>
<path d="M324.80 127.73 L327.70 131.53 L324.80 135.33 L321.90 131.53 Z" fill="#fff" stroke="#ff0000" stroke-width="2.0" stroke-linejoin="miter"/>
<path d="M347.60 126.39 L350.50 130.19 L347.60 133.99 L344.70 130.19 Z" fill="#fff" stroke="#ff0000" stroke-width="2.0" stroke-linejoin="miter"/>
<path d="M370.40 132.85 L373.30 136.65 L370.40 140.45 L367.50 136.65 Z" fill="#fff" stroke="#ff0000" stroke-width="2.0" stroke-linejoin="miter"/>
<path d="M393.20 133.05 L396.10 136.85 L393.20 140.65 L390.30 136.85 Z" fill="#fff" stroke="#ff0000" stroke-width="2.0" stroke-linejoin="miter"/>
<path d="M416.00 123.62 L418.90 127.42 L416.00 131.22 L413.10 127.42 Z" fill="#fff" stroke="#ff0000" stroke-width="2.0" stroke-linejoin="miter"/>
<path d="M438.80 140.64 L441.70 144.44 L438.80 148.24 L435.90 144.44 Z" fill="#fff" stroke="#ff0000" stroke-width="2.0" stroke-linejoin="miter"/>
<g font-family="Liberation Sans, Arial, Helvetica, sans-serif" font-size="10" fill="#262626">
<text x="233.20" y="265.1" text-anchor="middle">0</text>
<text x="256.00" y="265.1" text-anchor="middle">2</text>
<text x="278.80" y="265.1" text-anchor="middle">4</text>
<text x="301.60" y="265.1" text-anchor="middle">6</text>
<text x="324.40" y="265.1" text-anchor="middle">8</text>
<text x="347.20" y="265.1" text-anchor="middle">10</text>
<text x="370.00" y="265.1" text-anchor="middle">12</text>
<text x="392.80" y="265.1" text-anchor="middle">14</text>
<text x="415.60" y="265.1" text-anchor="middle">16</text>
<text x="438.40" y="265.1" text-anchor="middle">18</text>
<text x="229" y="254.10" text-anchor="end">80</text>
<text x="229" y="233.60" text-anchor="end">82</text>
<text x="229" y="213.10" text-anchor="end">84</text>
<text x="229" y="192.60" text-anchor="end">86</text>
<text x="229" y="172.10" text-anchor="end">88</text>
<text x="229" y="151.60" text-anchor="end">90</text>
<text x="229" y="131.10" text-anchor="end">92</text>
</g>
<rect x="257.5" y="25.3" width="193.7" height="36.2" fill="none" stroke="#222" stroke-width="0.85" stroke-dasharray="5 2 1 2"/>
<path d="M329.2 61.6 L347.83 116.89" stroke="#111" stroke-width="0.9" fill="none"/>
<path d="M350.8 125.7 L343.31 116.30 L348.34 118.40 L351.08 113.68 Z" fill="#000"/>
</svg>
</body></html>
